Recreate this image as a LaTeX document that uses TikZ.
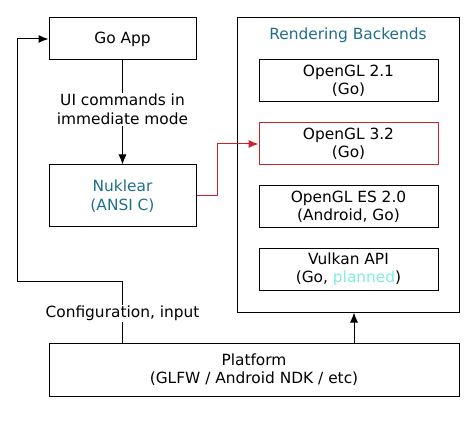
\documentclass[tikz,border=0pt]{standalone}
\usepackage{fontspec}
\setmainfont{DejaVu Sans}
\usetikzlibrary{positioning,arrows.meta}
\definecolor{teal}{HTML}{1F6F8B}
\definecolor{aqua}{HTML}{7FEEDB}
\definecolor{redline}{HTML}{D0202E}

\begin{document}
\begin{tikzpicture}[x=1pt, y=-1pt, line width=1pt,
    every node/.style={font=\fontsize{15.4}{18.5}\selectfont, align=center, inner sep=1pt},
    box/.style={draw, minimum width=147pt, minimum height=42pt},
    backend/.style={draw, minimum width=179pt, minimum height=42pt},
    lbl/.style={fill=white},
    arr/.style={-{Latex[length=10pt,width=8pt]}}]
  \useasboundingbox (0,0) rectangle (474,422);
  \node[box] (go) at (122.5,39) {Go App};
  \node[box, minimum height=62pt, text=teal] (nuk) at (122.5,196) {Nuklear\\(ANSI C)};
  \node[draw, minimum width=222pt, minimum height=294pt] (rb) at (348,165) {};
  \node[text=teal] (rbt) at (348,35) {Rendering Backends};
  \node[backend] (gl21) at (348.5,81) {OpenGL 2.1\\(Go)};
  \node[backend, draw=redline] (gl32) at (348.5,144) {OpenGL 3.2\\(Go)};
  \node[backend] (gles) at (348.5,207) {OpenGL ES 2.0\\(Android, Go)};
  \node[backend] (vk) at (348.5,269.5) {Vulkan API\\(Go, \textcolor{aqua}{planned})};
  \node[draw, minimum width=410pt, minimum height=53pt] (plat) at (254,369.5) {Platform\\(GLFW / Android NDK / etc)};
  \coordinate (turn) at (17,281);
  \coordinate (rbin) at ([xshift=6pt]rb.south);
  \draw[arr] (go) -- node[lbl, pos=0.47] {UI commands in\\immediate mode} (nuk);
  \draw[arr] (plat.north -| go.south) -- node[lbl, pos=0.47] {Configuration, input} (go.south |- turn) -- (turn) |- (go.west);
  \draw[arr, redline] (nuk.east) -- ++(21,0) |- (gl32.west);
  \draw[arr] (plat.north -| rbin) -- (rbin);
\end{tikzpicture}
\end{document}
